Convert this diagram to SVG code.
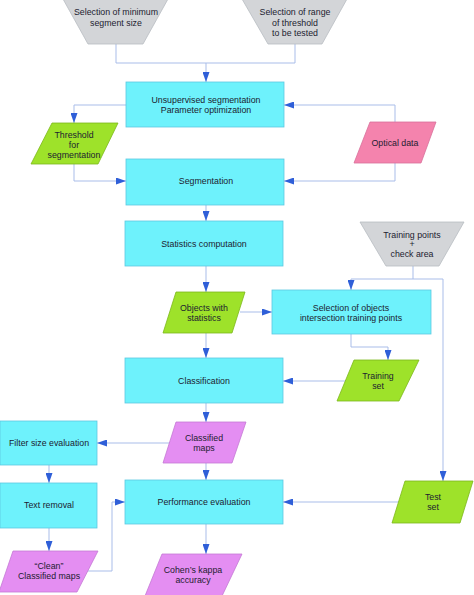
<svg xmlns="http://www.w3.org/2000/svg" width="474" height="595" viewBox="0 0 474 595">
<defs>
<marker id="arr" markerUnits="userSpaceOnUse" markerWidth="10" markerHeight="7" refX="10" refY="3.5" orient="auto">
<path d="M0,0 L10,3.5 L0,7 z" fill="#2f5fd8"/>
</marker>
<style>
text{font-family:"Liberation Sans",Arial,sans-serif;font-size:8.8px;fill:#1c1c30;text-anchor:middle}
.box{fill:#6ef2fc;stroke:#5cc8e0;stroke-width:0.8}
.gray{fill:#d3d5d8;stroke:#b8bcc2;stroke-width:0.8}
.green{fill:#9ee22a;stroke:#7cb81c;stroke-width:0.8}
.pink{fill:#f483ad;stroke:#d8709a;stroke-width:0.8}
.violet{fill:#e48ef2;stroke:#c478d4;stroke-width:0.8}
.c{fill:none;stroke:#a9bde9;stroke-width:1}
.a{fill:none;stroke:#a9bde9;stroke-width:1;marker-end:url(#arr)}
</style>
</defs>
<rect width="474" height="595" fill="#ffffff"/>
<g id="connectors">
<path class="c" d="M116,44 V63 H295 V44"/>
<path class="a" d="M206,63 V82"/>
<path class="a" d="M126,105 H74 V123"/>
<path class="a" d="M395,122 V105 H284"/>
<path class="a" d="M74,164 V181 H126"/>
<path class="a" d="M395,163 V181 H284"/>
<path class="a" d="M206,205 V221"/>
<path class="a" d="M206,266 V292"/>
<path class="c" d="M413,266 V279 H443"/>
<path class="a" d="M413,279 H351 V290"/>
<path class="a" d="M240,312 H272"/>
<path class="a" d="M351,334 V347 H388 V360"/>
<path class="a" d="M206,333 V358"/>
<path class="a" d="M346,381 H283"/>
<path class="a" d="M206,403 V422"/>
<path class="a" d="M170,443 H97"/>
<path class="a" d="M49,465 V483"/>
<path class="a" d="M49,528 V551"/>
<path class="a" d="M206,463 V480"/>
<path class="a" d="M88,571 H112 V502 H125"/>
<path class="a" d="M443,279 V481"/>
<path class="a" d="M399,502 H283"/>
<path class="a" d="M206,524 V554"/>
</g>
<g id="min-segment">
<polygon class="gray" points="63,-1 168,-1 143,44 88,44"/>
<text x="116" y="15">Selection of minimum</text>
<text x="116" y="26">segment size</text>
</g>
<g id="threshold-range">
<polygon class="gray" points="242,-1 347,-1 322,44 268,44"/>
<text x="295" y="15">Selection of range</text>
<text x="295" y="26">of threshold</text>
<text x="295" y="36">to be tested</text>
</g>
<g id="unsupervised">
<rect class="box" x="126" y="82" width="158" height="45"/>
<text x="206" y="103">Unsupervised segmentation</text>
<text x="206" y="113">Parameter optimization</text>
</g>
<g id="threshold-seg">
<polygon class="green" points="52,123 118,123 98,164 31,164"/>
<text x="74" y="138">Threshold</text>
<text x="74" y="148">for</text>
<text x="74" y="158">segmentation</text>
</g>
<g id="optical">
<polygon class="pink" points="370,122 436,122 421,163 354,163"/>
<text x="395" y="146">Optical data</text>
</g>
<g id="segmentation">
<rect class="box" x="126" y="159" width="158" height="46"/>
<text x="206" y="184">Segmentation</text>
</g>
<g id="statistics">
<rect class="box" x="125" y="221" width="158" height="45"/>
<text x="204" y="247">Statistics computation</text>
</g>
<g id="training-points">
<polygon class="gray" points="360,222 464,222 439,266 386,266"/>
<text x="412" y="238">Training points</text>
<text x="412" y="247">+</text>
<text x="412" y="257">check area</text>
</g>
<g id="objects">
<polygon class="green" points="176,292 245,292 232,333 163,333"/>
<text x="204" y="311">Objects with</text>
<text x="204" y="321">statistics</text>
</g>
<g id="selection-objects">
<rect class="box" x="272" y="290" width="159" height="44"/>
<text x="351" y="311">Selection of objects</text>
<text x="351" y="321">intersection training points</text>
</g>
<g id="training-set">
<polygon class="green" points="354,360 419,360 399,401 337,401"/>
<text x="378" y="379">Training</text>
<text x="378" y="389">set</text>
</g>
<g id="classification">
<rect class="box" x="125" y="358" width="158" height="45"/>
<text x="204" y="384">Classification</text>
</g>
<g id="classified-maps">
<polygon class="violet" points="176,422 246,422 232,463 163,463"/>
<text x="204" y="441">Classified</text>
<text x="204" y="451">maps</text>
</g>
<g id="filter-size">
<rect class="box" x="0" y="421" width="97" height="44"/>
<text x="49" y="446">Filter size evaluation</text>
</g>
<g id="text-removal">
<rect class="box" x="0" y="483" width="97" height="45"/>
<text x="49" y="508">Text removal</text>
</g>
<g id="clean-maps">
<polygon class="violet" points="13,551 98,551 77,592 -1,592"/>
<text x="49" y="569">“Clean”</text>
<text x="49" y="579">Classified maps</text>
</g>
<g id="performance">
<rect class="box" x="125" y="480" width="158" height="44"/>
<text x="204" y="505">Performance evaluation</text>
</g>
<g id="test-set">
<polygon class="green" points="405,481 473,481 460,523 392,523"/>
<text x="433" y="500">Test</text>
<text x="433" y="510">set</text>
</g>
<g id="cohens">
<polygon class="violet" points="162,554 242,554 222,596 145,596"/>
<text x="193" y="573">Cohen’s kappa</text>
<text x="193" y="583">accuracy</text>
</g>
</svg>
